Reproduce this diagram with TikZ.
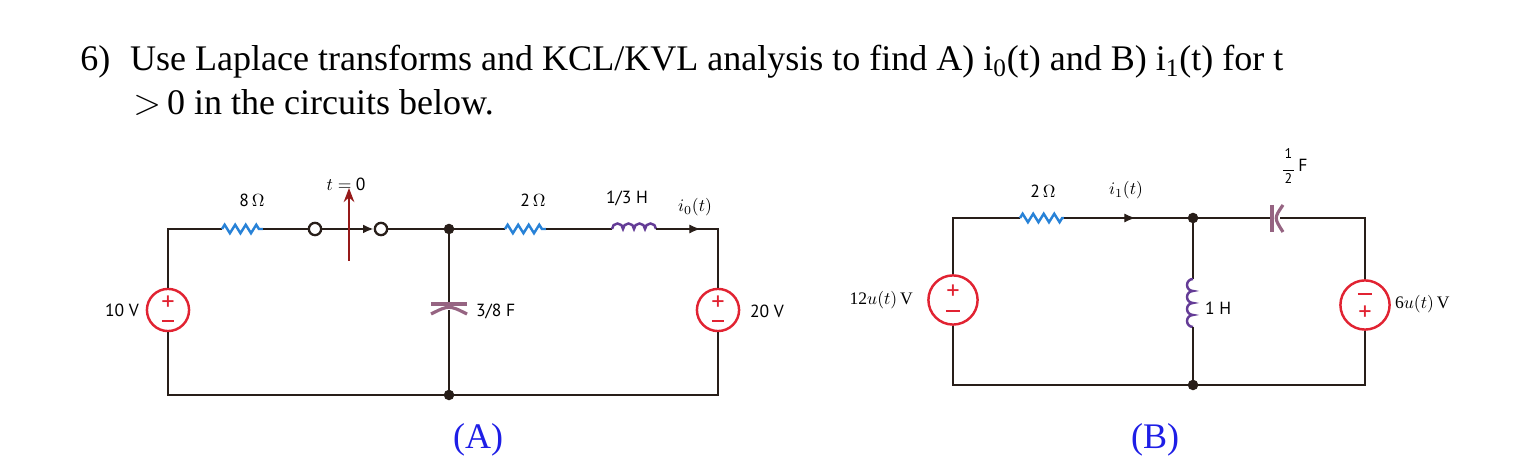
\documentclass[tikz,border=0pt]{standalone}
\usepackage{fontspec}
\setmainfont{Liberation Serif}
\newfontfamily\lab{PT Sans}
\usetikzlibrary{decorations.pathmorphing,arrows.meta}
\definecolor{wire}{RGB}{40,30,25}
\definecolor{resc}{RGB}{40,130,215}
\definecolor{indc}{RGB}{100,60,150}
\definecolor{capc}{RGB}{150,100,130}
\definecolor{srcc}{RGB}{225,35,50}
\definecolor{swc}{RGB}{150,25,25}
\definecolor{ttl}{RGB}{30,30,230}
\begin{document}
\begin{tikzpicture}[x=0.02cm,y=0.02cm,
  w/.style={wire,line width=1.6pt},
  res/.style={resc,line width=1.4pt,decorate,decoration={zigzag,segment length=6pt,amplitude=2.4pt}},
  ind/.style={indc,line width=1.4pt},
  capp/.style={capc,line width=1.8pt},
  src/.style={circle,draw=srcc,line width=1.4pt,minimum size=#1,inner sep=0pt,fill=white},
  sgn/.style={srcc,font=\lab\fontsize{15}{15}\selectfont,inner sep=0pt},
  dot/.style={circle,fill=wire,inner sep=0pt,minimum size=6pt},
  lb/.style={font=\lab\fontsize{10}{12}\selectfont,inner sep=1pt},
  mt/.style={font=\fontsize{10}{12}\selectfont,inner sep=1pt},
  arr/.style={wire,-{Latex[length=6pt,width=5pt]}}]
\useasboundingbox (0,0) rectangle (1530,475);
% title
\node[anchor=base west,font=\fontsize{20.5}{24}\selectfont,inner sep=0] (t1) at (80,404) {6)\hspace{0.55em}Use Laplace transforms and KCL/KVL analysis to find A) i\textsubscript{0}(t) and B) i\textsubscript{1}(t) for t};
\node[anchor=base west,font=\fontsize{20.5}{24}\selectfont,inner sep=0] (t2) at (133,360) {$>$\,0 in the circuits below.};
% ===== circuit A =====
\coordinate (a1) at (168,246); \coordinate (a2) at (168,80);
\coordinate (am) at (449,246); \coordinate (amb) at (449,80);
\coordinate (ar) at (718,246); \coordinate (arb) at (718,80);
\node[src=24pt] (vs1) at (168,165) {};
\node[sgn] at (168,172) {+}; \node[sgn] at (168,154) {\rule{7pt}{0.8pt}};
\node[src=24pt] (vs2) at (718,165) {};
\node[sgn] at (718,172) {+}; \node[sgn] at (718,154) {\rule{7pt}{0.8pt}};
\coordinate (r1a) at (222,246); \coordinate (r1b) at (263,246);
\node[circle,draw=wire,line width=1.3pt,fill=white,minimum size=7pt,inner sep=0] (s1) at (315,246) {};
\node[circle,draw=wire,line width=1.3pt,fill=white,minimum size=7pt,inner sep=0] (s2) at (381,246) {};
\coordinate (r2a) at (505,246); \coordinate (r2b) at (546,246);
\coordinate (l1a) at (612,246); \coordinate (l1b) at (656,246);
\coordinate (c1t) at (449,171); \coordinate (c1b) at (449,165);
\draw[w] (vs1.north) -- (a1) -- (r1a);
\draw[res] (r1a) -- (r1b);
\draw[w] (r1b) -- (s1.west);
\draw[w,-{Latex[length=6pt,width=5pt]}] (s1.east) -- (s2.west);
\draw[w] (s2.east) -- (am) -- (r2a);
\draw[res] (r2a) -- (r2b);
\draw[w] (r2b) -- (l1a);
\draw[ind] (l1a) arc[start angle=180,end angle=0,radius=5.5]
  arc[start angle=180,end angle=0,radius=5.5]
  arc[start angle=180,end angle=0,radius=5.5]
  arc[start angle=180,end angle=0,radius=5.5];
\draw[w] (l1b) -- (ar) -- (vs2.north);
\draw[arr] (680,246) -- (700,246);
\draw[w] (vs1.south) -- (a2) -- (arb) -- (vs2.south);
\draw[w] (am) -- (c1t);
\draw[w] (c1b) -- (amb);
\draw[capp] (431,171) -- (467,171);
\draw[capp] (431,161) .. controls (449,170) .. (467,161);
\node[dot] at (am) {}; \node[dot] at (amb) {};
\draw[swc,line width=1.6pt,-{Stealth[length=8pt,width=6pt]}] (349,214) -- (349,287);
\node[mt] at (346,291) {$t =$ {\lab 0}};
\node[lb] at (252,275) {8\,$\Omega$};
\node[lb] at (533,275) {2\,$\Omega$};
\node[lb] at (627,277) {1/3 H};
\node[mt] at (695,268) {$i_0(t)$};
\node[lb,anchor=west] at (474,164) {3/8 F};
\node[lb,anchor=east] at (141,165) {10 V};
\node[lb,anchor=west] at (748,164) {20 V};
\node[font=\fontsize{20.5}{24}\selectfont,text=ttl] at (478,35) {(A)};
% ===== circuit B =====
\coordinate (b1) at (953,257); \coordinate (b2) at (953,90);
\coordinate (bm) at (1193,257); \coordinate (bmb) at (1193,90);
\coordinate (br) at (1365,257); \coordinate (brb) at (1365,90);
\node[src=28pt] (vb1) at (953,175) {};
\node[sgn] at (953,183) {+}; \node[sgn] at (953,164) {\rule{8pt}{0.8pt}};
\node[src=28pt] (vb2) at (1365,170) {};
\node[sgn] at (1365,181) {\rule{8pt}{0.8pt}}; \node[sgn] at (1365,162) {+};
\coordinate (r3a) at (1020,257); \coordinate (r3b) at (1064,257);
\coordinate (l2a) at (1193,196); \coordinate (l2b) at (1193,148);
\coordinate (c2a) at (1272,257); \coordinate (c2b) at (1280,257);
\draw[w] (vb1.north) -- (b1) -- (r3a);
\draw[res] (r3a) -- (r3b);
\draw[w] (r3b) -- (bm) -- (c2a);
\draw[arr] (1115,257) -- (1135,257);
\draw[w] (c2b) -- (br) -- (vb2.north);
\draw[capp] (1272,270) -- (1272,243);
\draw[capp] (1283,270) .. controls (1274,257) .. (1283,243);
\draw[w] (bm) -- (l2a);
\draw[ind] (l2a) arc[start angle=90,end angle=270,radius=6]
  arc[start angle=90,end angle=270,radius=6]
  arc[start angle=90,end angle=270,radius=6]
  arc[start angle=90,end angle=270,radius=6];
\draw[w] (l2b) -- (bmb);
\draw[w] (vb1.south) -- (b2) -- (brb) -- (vb2.south);
\node[dot] at (bm) {}; \node[dot] at (bmb) {};
\node[lb] at (1043,284) {2\,$\Omega$};
\node[mt] at (1126,285) {$i_1(t)$};
\node[lb,anchor=west] at (1281,308) {\begin{tabular}{@{}c@{}}\fontsize{8}{8}\selectfont 1\\[-5pt]\rule{6pt}{0.5pt}\\[-5pt]\fontsize{8}{8}\selectfont 2\end{tabular} F};
\node[lb,anchor=west] at (1203,167) {1 H};
\node[mt,anchor=east] at (915,175) {12$u(t)$\,V};
\node[mt,anchor=west] at (1393,171) {6$u(t)$\,V};
\node[font=\fontsize{20.5}{24}\selectfont,text=ttl] at (1155,35) {(B)};
\end{tikzpicture}
\end{document}
